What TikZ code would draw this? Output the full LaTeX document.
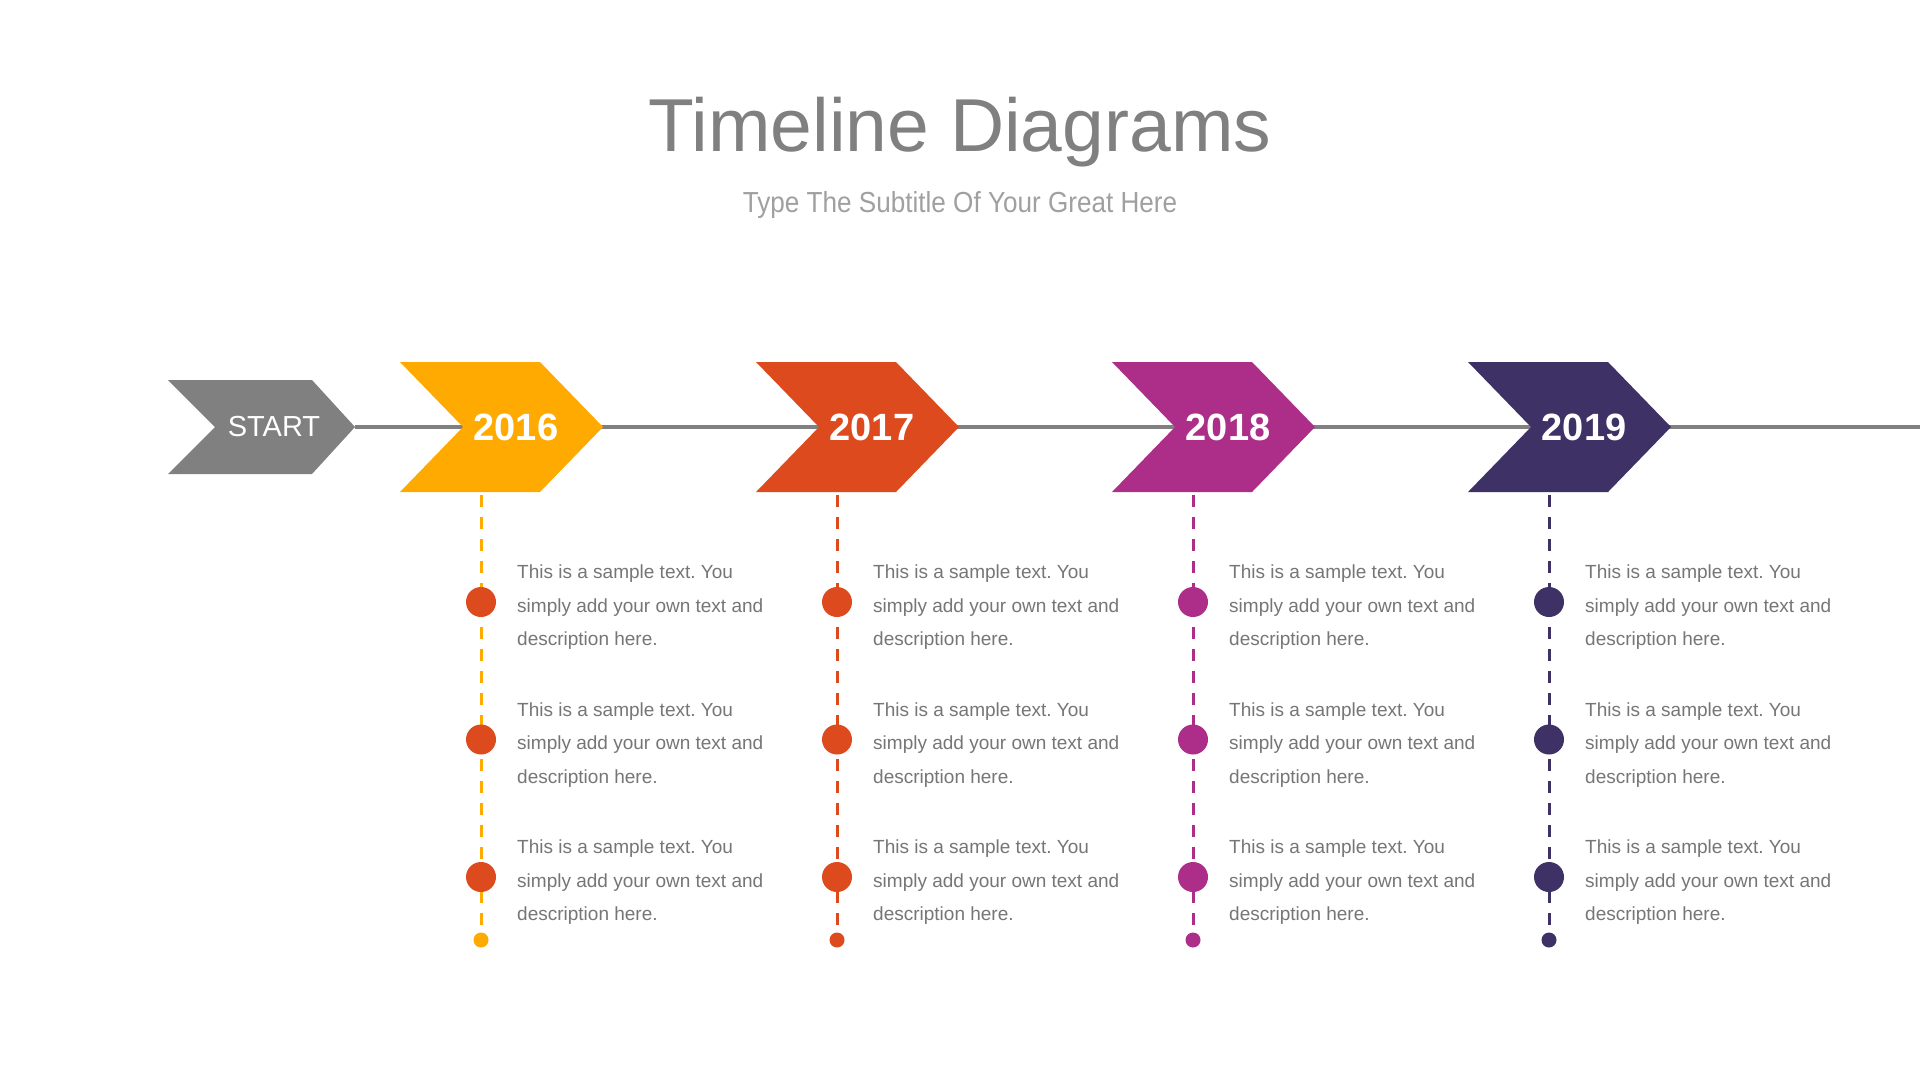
\documentclass[tikz,border=0pt]{standalone}
\usepackage{fontspec}
\setmainfont{Liberation Sans}
\newfontfamily\subfont[FakeStretch=0.9]{Liberation Sans}
\usepackage{tikz}
\usetikzlibrary{positioning, arrows.meta, calc}
\definecolor{TitleGray}{RGB}{128, 128, 128}
\definecolor{SubGray}{RGB}{160, 160, 160}
\definecolor{BodyGray}{RGB}{118, 118, 118}
\definecolor{LineGray}{RGB}{128, 128, 128}
\definecolor{AmberYear}{RGB}{255, 170, 0}
\definecolor{RustYear}{RGB}{220, 74, 30}
\definecolor{PlumYear}{RGB}{172, 46, 136}
\definecolor{NavyYear}{RGB}{61, 49, 102}
\frenchspacing

\tikzset{
  titletext/.style={text=TitleGray, font=\fontsize{75}{80}\selectfont, anchor=base, inner sep=0},
  subtext/.style={text=SubGray, font=\subfont\fontsize{29}{32}\selectfont, anchor=base, inner sep=0},
  yeartext/.style={text=white, font=\bfseries\fontsize{38}{40}\selectfont, inner sep=0},
  starttext/.style={text=white, font=\fontsize{29}{32}\selectfont, inner sep=0},
  bodytext/.style={text=BodyGray, font=\fontsize{19}{33.5}\selectfont, align=left, anchor=north west, inner sep=0},
  mainline/.style={draw=LineGray, line width=4pt},
  dashline/.style={line width=3pt, dash pattern=on 12pt off 10pt},
  bigdot/.style={circle, minimum size=30pt, inner sep=0},
  enddot/.style={circle, minimum size=15pt, inner sep=0}
}

\begin{document}
\begin{tikzpicture}[x=1pt, y=-1pt]
\useasboundingbox (0,0) rectangle (1920,1080);
\fill[white] (0,0) rectangle (1920,1080);

% title
\node[titletext] (title) at (960,151) {Timeline Diagrams};
\node[subtext] (subtitle) at (960,212) {Type The Subtitle Of Your Great Here};

% axis behind the arrows
\coordinate (starttip) at (355,427);
\coordinate (lineend) at (1920,427);
\draw[mainline] (starttip) -- (lineend);

% start arrow
\fill[LineGray] (168,380) -- (312,380) -- (starttip) -- (312,474) -- (168,474) -- (215,427) -- cycle;
\node[starttext] (start) at (274,427) {START};

% years
\foreach \yr/\col/\dotcol [count=\i from 0] in {2016/AmberYear/RustYear, 2017/RustYear/RustYear, 2018/PlumYear/PlumYear, 2019/NavyYear/NavyYear} {
  \pgfmathsetmacro\x{400+356*\i}
  \fill[\col] (\x,362) -- ++(140,0) -- ++(63,65) -- ++(-63,65) -- ++(-140,0) -- ++(63,-65) -- cycle;
  \node[yeartext] (y\yr) at (\x+116,427) {\yr};
  \coordinate (top\yr) at (\x+81,495);
  \node[enddot, fill=\col] (end\yr) at (\x+81,940) {};
  \draw[dashline, \col] (top\yr) -- (end\yr.center);
  \foreach \k in {0,1,2} {
    \node[bigdot, fill=\dotcol] (dot\yr\k) at (\x+81,602+137.5*\k) {};
    \node[bodytext] (txt\yr\k) at (\x+117,565+137.5*\k) {This is a sample text. You\\simply add your own text and\\description here.};
  }
}
\end{tikzpicture}
\end{document}
